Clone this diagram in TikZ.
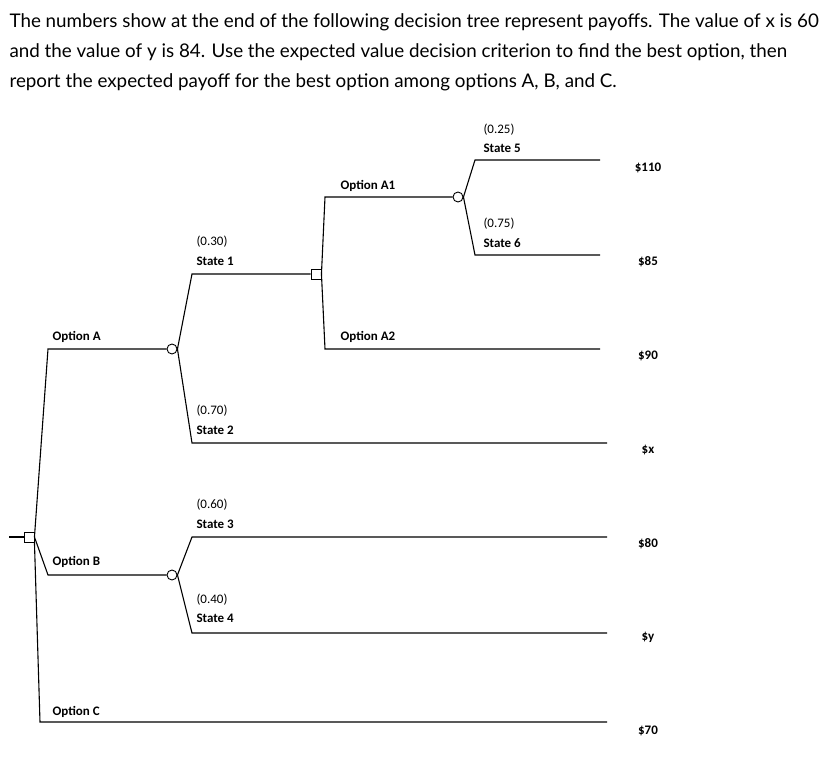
\documentclass[tikz,border=0pt]{standalone}
\usepackage{fontspec}
\setmainfont{Lato}
\newfontfamily\lab{Carlito}
\begin{document}
\begin{tikzpicture}[x=1pt,y=-1pt,line width=1.1pt,
  dec/.style={draw,fill=white,minimum size=10pt,inner sep=0pt,line width=0.9pt},
  chn/.style={draw,fill=white,circle,minimum size=10pt,inner sep=0pt,line width=0.9pt},
  lb/.style={font=\lab\fontsize{13}{15}\selectfont\bfseries,anchor=west,inner sep=0pt},
  pr/.style={font=\lab\fontsize{13}{15}\selectfont,anchor=west,inner sep=0pt},
  pay/.style={font=\lab\fontsize{13}{15}\selectfont\bfseries,inner sep=0pt}]
\useasboundingbox (0,0) rectangle (833,756);
\node[anchor=west,inner sep=0pt,font=\fontsize{18.8}{30}\selectfont,align=left] (q) at (9,52)
{The numbers show at the end of the following decision tree represent payoffs. The value of x is 60\\
and the value of y is 84. Use the expected value decision criterion to find the best option, then\\
report the expected payoff for the best option among options A, B, and C.};
% nodes
\node[dec] (r) at (29,537) {};
\coordinate (r0) at (9,537);
\node[chn] (ca) at (172,349) {};
\node[dec] (da) at (316,274) {};
\node[chn] (c1) at (458,197) {};
\node[chn] (cb) at (172,575) {};
\coordinate (eA) at (48,349);
\coordinate (eB) at (48,575);
\coordinate (eC) at (40,722);
\coordinate (fC) at (607,722);
\coordinate (s1) at (192,274);
\coordinate (s2) at (192,443); \coordinate (t2) at (607,443);
\coordinate (a1) at (325,197);
\coordinate (a2) at (325,349); \coordinate (t3) at (600,349);
\coordinate (s5) at (475,160); \coordinate (t5) at (600,160);
\coordinate (s6) at (475,255); \coordinate (t6) at (600,255);
\coordinate (s3) at (192,537); \coordinate (t7) at (607,537);
\coordinate (s4) at (192,633); \coordinate (t8) at (607,633);
% connectors
\draw (r0) -- (r.west);
\draw (r.east) -- (eA) -- (ca.west);
\draw (r.east) -- (eB) -- (cb.west);
\draw (r.south east) -- (eC) -- (fC);
\draw (ca.east) -- (s1) -- (da.west);
\draw (ca.east) -- (s2) -- (t2);
\draw (da.east) -- (a1) -- (c1.west);
\draw (da.east) -- (a2) -- (t3);
\draw (c1.east) -- (s5) -- (t5);
\draw (c1.east) -- (s6) -- (t6);
\draw (cb.east) -- (s3) -- (t7);
\draw (cb.east) -- (s4) -- (t8);
% labels
\node[lb] (lA) at (52,337) {Option A};
\node[lb] (lB) at (52,562) {Option B};
\node[lb] (lC) at (52,712) {Option C};
\node[lb] (lA1) at (340,186) {Option A1};
\node[lb] (lA2) at (340,337) {Option A2};
\node[pr] (p1) at (196,242) {(0.30)}; \node[lb] (n1) at (196,261) {State 1};
\node[pr] (p2) at (196,411) {(0.70)}; \node[lb] (n2) at (196,430) {State 2};
\node[pr] (p3) at (196,505) {(0.60)}; \node[lb] (n3) at (196,524) {State 3};
\node[pr] (p4) at (196,600) {(0.40)}; \node[lb] (n4) at (196,618) {State 4};
\node[pr] (p5) at (483,130) {(0.25)}; \node[lb] (n5) at (483,148) {State 5};
\node[pr] (p6) at (483,224) {(0.75)}; \node[lb] (n6) at (483,243) {State 6};
\node[pay] (v1) at (648,168) {\$110};
\node[pay] (v2) at (648,262) {\$85};
\node[pay] (v3) at (648,356) {\$90};
\node[pay] (v4) at (648,450) {\$x};
\node[pay] (v5) at (648,544) {\$80};
\node[pay] (v6) at (648,637) {\$y};
\node[pay] (v7) at (648,731) {\$70};
\end{tikzpicture}
\end{document}
